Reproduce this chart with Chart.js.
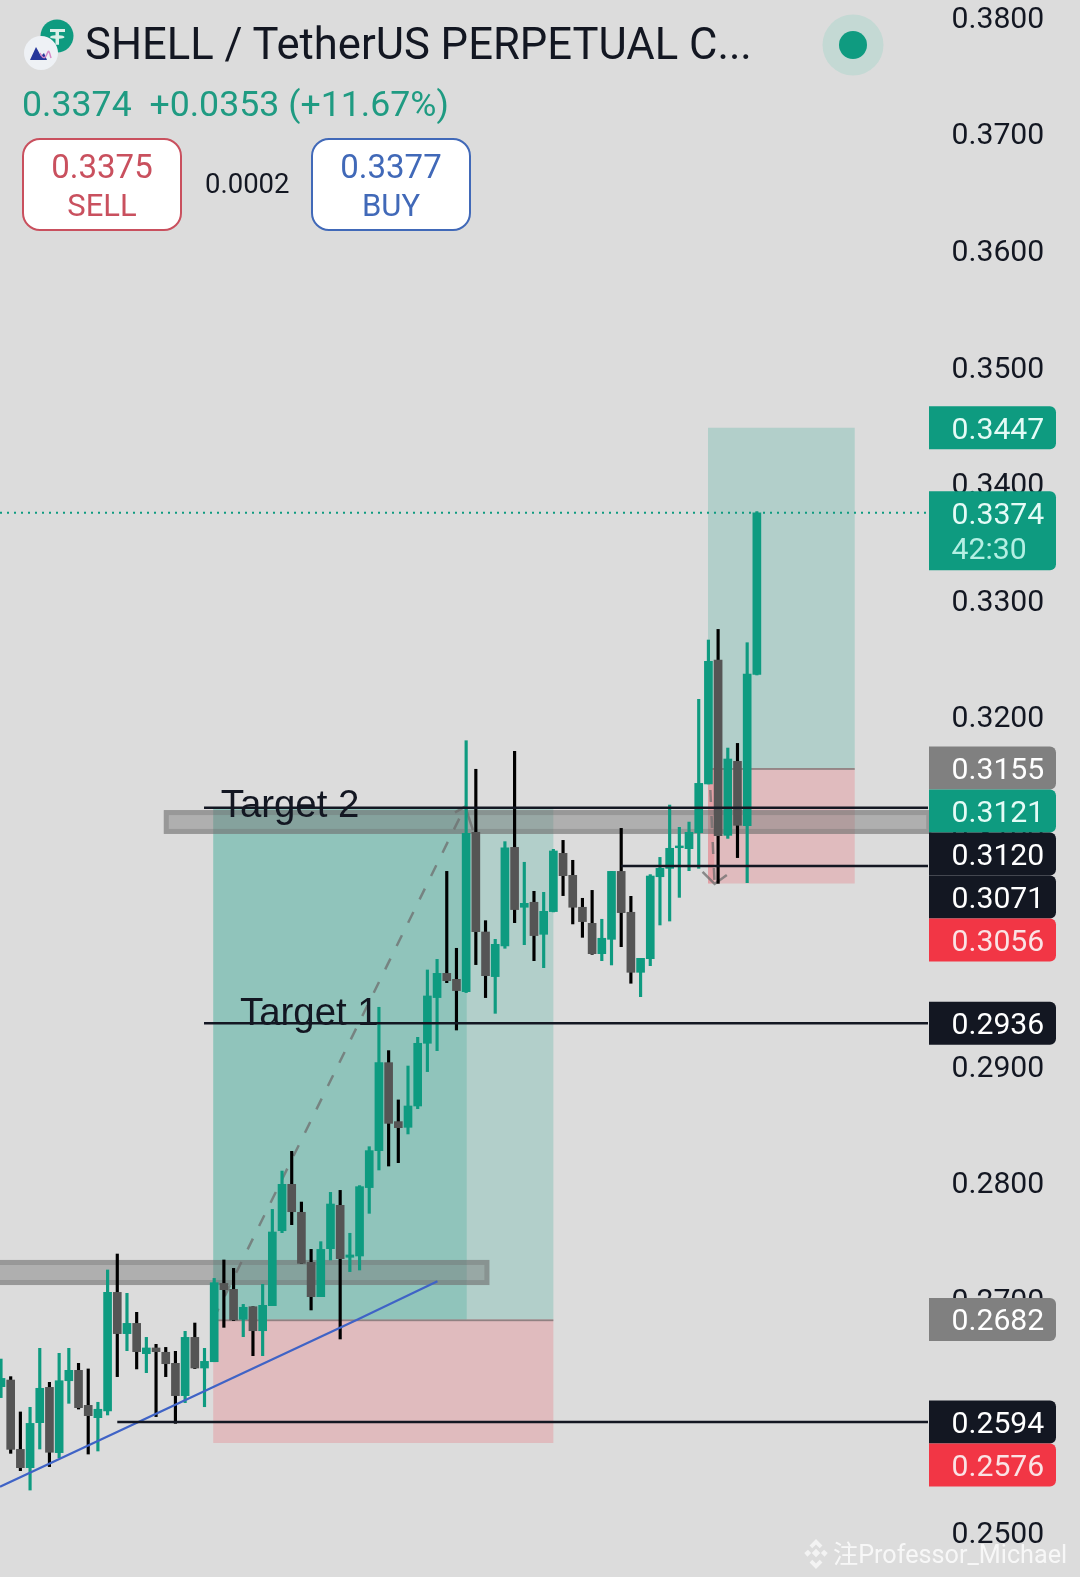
<!DOCTYPE html>
<html>
<head>
<meta charset="utf-8">
<title>SHELL / TetherUS</title>
<script src="https://cdn.jsdelivr.net/npm/chart.js@4"></script>
<style>
  html, body { margin: 0; padding: 0; background: #dcdcdc; }
  #page { position: relative; width: 1080px; height: 1577px; overflow: hidden; font-family: Roboto, sans-serif; }
  #wrap { position: absolute; left: 0; top: 0; width: 1080px; height: 1577px; }
  .abs { position: absolute; white-space: nowrap; }
  .box { position: absolute; top: 138px; width: 156px; height: 89px; border: 2px solid; border-radius: 18px; background: #fff; text-align: center; }
  .box div { position: absolute; left: 0; right: 0; }
</style>
</head>
<body>
<div id="page">
  <div id="wrap"><canvas id="chart"></canvas></div>

  <svg class="abs" style="left:20px;top:16px" width="60" height="60" viewBox="0 0 60 60">
    <circle cx="37" cy="20" r="16.5" fill="#0e9b80"/>
    <path d="M30 13h15v3h-6v3.2c3 .2 5.500 .8 5.500 1.800s-2.500 1.600-5.500 1.800v6h-3.500v-6c-3-.2-5.500-.8-5.500-1.800s2.500-1.600 5.500-1.800v-3.200h-5.500z" fill="#dcefe9"/>
    <circle cx="21" cy="37" r="17" fill="#eef1f5"/>
    <path d="M10 44l6-13 5 9 3-3 3 7z" fill="#26379a"/>
    <path d="M20 37c3 6 5 6 7 1s2-3 4 4" fill="none" stroke="#d58ac8" stroke-width="1.500"/>
  </svg>
  <div class="abs" id="title" style="left:85px;top:19px;font-size:43.600px;line-height:52px;color:#131722">SHELL / TetherUS PERPETUAL C...</div>
  <div class="abs" id="change" style="left:22px;top:84px;font-size:35.700px;line-height:40px;color:#1f9b82;white-space:pre">0.3374  +0.0353 (+11.67%)</div>

  <div class="box" style="left:22px;border-color:#c9505e;color:#c9505e">
    <div style="top:7px;font-size:33px;line-height:40px">0.3375</div>
    <div style="top:48px;font-size:31px;line-height:36px">SELL</div>
  </div>
  <div class="abs" style="left:205px;top:168px;font-size:27.500px;line-height:32px;color:#131722">0.0002</div>
  <div class="box" style="left:311px;border-color:#4169b8;color:#4169b8">
    <div style="top:7px;font-size:33px;line-height:40px">0.3377</div>
    <div style="top:48px;font-size:31px;line-height:36px">BUY</div>
  </div>

  <svg class="abs" style="left:822px;top:14px" width="62" height="62">
    <circle cx="31" cy="31" r="30.500" fill="#c4d9d4"/>
    <circle cx="31" cy="31" r="14" fill="#0f9b80"/>
  </svg>

  <svg class="abs" style="left:800px;top:1538px" width="32" height="32" viewBox="0 0 30 30" fill="#f3f3f3">
    <path d="M15 1l6 6-2.500 2.500-3.500-3.500-3.500 3.500-2.500-2.500z"/>
    <path d="M4 11l3.500-3 3 3-3.500 3.500zM26 11l-3.500-3-3 3 3.500 3.500z" transform="translate(0 3)"/>
    <path d="M15 10l4 4-4 4-4-4z"/>
    <path d="M15 29l-6-6 2.500-2.500 3.500 3.500 3.500-3.500 2.500 2.500z"/>
  </svg>
  <div class="abs" id="mark" style="left:833px;top:1538px;font-family:Roboto,'Noto Sans CJK SC',sans-serif;font-size:25.200px;line-height:34px;color:rgba(255,255,255,.78)">注Professor_Michael</div>
</div>

<script>
// candles
const opens = [.26243,.26300,.25705,.25548,.25934,.26237,.25677,.26294,.26383,.26083,.25977,.26034,.27052,.26698,.26786,.26526,.26575,.26538,.26443,.26166,.26666,.26403,.26457,.27129,.27078,.26821,.26929,.26723,.26938,.27581,.27979,.27739,.27310,.27015,.27427,.27799,.27353,.27364,.27951,.28268,.29023,.28517,.28468,.28651,.29189,.29581,.29789,.29738,.29632,.30999,.30144,.29761,.30024,.30870,.30356,.30399,.30124,.30319,.30819,.30630,.30356,.30218,.29958,.30081,.30664,.30313,.29798,.29915,.30618,.30690,.30867,.30859,.30996,.31414,.32477,.30973,.31608,.31056,.32354];
const closes = [.26314,.25705,.25548,.25928,.26229,.25680,.26294,.26383,.26063,.25994,.26049,.27052,.26698,.26786,.26543,.26575,.26543,.26440,.26166,.26666,.26403,.26460,.27135,.27075,.26815,.26924,.26723,.26941,.27570,.27979,.27744,.27301,.27015,.27421,.27810,.27341,.27373,.27959,.28268,.29023,.28502,.28465,.28651,.29189,.29595,.29789,.29726,.29641,.30990,.30147,.29769,.30038,.30865,.30336,.30390,.30113,.30321,.30839,.30627,.30356,.30233,.29958,.30090,.30664,.30310,.29798,.29918,.30624,.30690,.30862,.30882,.30999,.31419,.32466,.30970,.31628,.31059,.32357,.33741];
const highs = [.26480,.26329,.26026,.26066,.26572,.26280,.26529,.26572,.26443,.26395,.26109,.27244,.27381,.27044,.26881,.26666,.26606,.26580,.26546,.26718,.26789,.26572,.27172,.27330,.27258,.26949,.26929,.27121,.27764,.28093,.28262,.27827,.27421,.27487,.27910,.27927,.27559,.27968,.28302,.29498,.29126,.28703,.28994,.29240,.29818,.29909,.30664,.30004,.31785,.31540,.30241,.30081,.30919,.31694,.30742,.30493,.30484,.30853,.30930,.30759,.30433,.30501,.30253,.30664,.31033,.30450,.29918,.30636,.30784,.31233,.31042,.31087,.32140,.32649,.32740,.31722,.31762,.32626,.33750];
const lows = [.26149,.25671,.25522,.25356,.25708,.25557,.25634,.26100,.26051,.25665,.25691,.26000,.26329,.26552,.26395,.26363,.25986,.26329,.25928,.26106,.26398,.26071,.26457,.26752,.26809,.26672,.26509,.26509,.26938,.27564,.27633,.27301,.26901,.27015,.27330,.26652,.27230,.27244,.27730,.28102,.28136,.28165,.28411,.28628,.28946,.29126,.29709,.29303,.29624,.29864,.29581,.29446,.30004,.30224,.30035,.29898,.29838,.30316,.30456,.30213,.30098,.29952,.29898,.29861,.30018,.29704,.29589,.29855,.30204,.30238,.30441,.30670,.30690,.31414,.30561,.30947,.30782,.30567,.32349];

// axis
const yTicks = [.38,.37,.36,.35,.34,.33,.32,.31,.30,.29,.28,.27,.26,.25];
const yMin = 0.2461, yMax = 0.3814;
const xMin = -0.103, xMax = 95.66;

// right hand price tags, top to bottom
const tagPrices = [.3447,.3374,.3155,.3121,.3120,.3071,.3056,.2936,.2682,.2594,.2576];
const tagKinds = ["green","live","grey","green","black","black","red","black","grey","black","red"];
const countdown = "42:30";
const lastPrice = 0.3374;

// long position tools
const posLeft = [21.9, 72.96];
const posRight = [57.0, 88.1];
const posTarget = [.3121, .3447];
const posEntry = [.2682, .3155];
const posStop = [.2576, .3056];
const progressX = [48.06, 73.6];

// grey zones
const zoneLeft = [16.8, -1];
const zoneRight = [96, 50.4];
const zoneTop = [.3119, .2733];
const zoneBottom = [.30985, .27115];

// horizontal levels
const levelPrices = [.3121, .2936, .3071, .2594];
const levelStart = [20.95, 20.95, 64, 12];

// trend line
const trendX = [-0.103, 36.8, 45.04];
const trendY = [.25384, .2682, .27148];

// dashed paths of the position tools, with their arrow heads
const pathAX = [21.9, 47.9];
const pathAY = [.2682, .3122];
const headAX = [46.85, 47.9, 48.7];
const headAY = [.3117, .3122, .31019];
const pathBX = [73.2, 73.64];
const pathBY = [.31362, .30556];
const headBX = [72.4, 73.64, 74.9];
const headBY = [.30659, .30556, .30633];

// drawing labels
const noteTexts = ["Target 2", "Target 1"];
const noteX = [22.67, 24.66];
const noteY = [.31133, .29346];

const GREEN = "#0e9b80";
const DOWN_BODY = "#555555";
const DOWN_WICK = "#000000";
const INK = "#131722";

const idx = opens.map((v, i) => i);
const isUp = idx.map(i => closes[i] >= opens[i]);

function lineSet(xs, ys, color, width, dash, order) {
  return {
    type: "line",
    data: xs.map((x, i) => ({ x: x, y: ys[i] })),
    borderColor: color,
    borderWidth: width,
    borderDash: dash,
    pointRadius: 0,
    tension: 0,
    order: order
  };
}

function rect(ctx, x, y, l, r, top, bottom, color) {
  ctx.fillStyle = color;
  const x1 = x.getPixelForValue(l), x2 = x.getPixelForValue(r);
  const y1 = y.getPixelForValue(top), y2 = y.getPixelForValue(bottom);
  ctx.fillRect(x1, y1, x2 - x1, y2 - y1);
}

// position tools and grey zones go under the candles
const toolsPlugin = {
  id: "tools",
  beforeDatasetsDraw(chart) {
    const ctx = chart.ctx, x = chart.scales.x, y = chart.scales.y;
    ctx.save();
    posLeft.forEach((l, i) => {
      rect(ctx, x, y, l, posRight[i], posTarget[i], posEntry[i], "rgba(8,153,129,.2)");
      rect(ctx, x, y, l, posRight[i], posEntry[i], posStop[i], "rgba(242,54,69,.2)");
      rect(ctx, x, y, l, posRight[i], posEntry[i], posEntry[i] - 0.00015, "rgba(90,90,90,.6)");
    });
    rect(ctx, x, y, posLeft[0], progressX[0], posTarget[0], posEntry[0], "rgba(8,153,129,.2)");
    rect(ctx, x, y, posLeft[1], progressX[1], posEntry[1], posStop[1], "rgba(242,54,69,.2)");
    zoneLeft.forEach((l, i) => {
      const x1 = x.getPixelForValue(l), x2 = x.getPixelForValue(zoneRight[i]);
      const y1 = y.getPixelForValue(zoneTop[i]), y2 = y.getPixelForValue(zoneBottom[i]);
      ctx.fillStyle = "rgba(120,120,120,.45)";
      ctx.fillRect(x1, y1, x2 - x1, y2 - y1);
      ctx.strokeStyle = "rgba(110,110,110,.35)";
      ctx.lineWidth = 5;
      ctx.strokeRect(x1 + 2.5, y1 + 2.5, x2 - x1 - 5, y2 - y1 - 5);
    });
    ctx.restore();
  }
};

// notes and price tags go on top of everything
const tagsPlugin = {
  id: "tags",
  afterDraw(chart) {
    const ctx = chart.ctx, x = chart.scales.x, y = chart.scales.y;
    const colors = { green: GREEN, live: GREEN, grey: "#808080", black: INK, red: "#f23645" };
    const inks = { green: "#e4fbf6", live: "#e4fbf6", grey: "#ffffff", black: "#ffffff", red: "#fae3e5" };
    ctx.save();
    ctx.textBaseline = "alphabetic";
    ctx.fillStyle = INK;
    ctx.font = "38.4px 'Liberation Sans'";
    ctx.textAlign = "left";
    noteTexts.forEach((t, i) => ctx.fillText(t, x.getPixelForValue(noteX[i]), y.getPixelForValue(noteY[i])));

    ctx.font = "30.2px Roboto";
    let prevBottom = 0;
    tagPrices.forEach((p, i) => {
      const kind = tagKinds[i];
      const top = Math.max(prevBottom, y.getPixelForValue(p) - 21.5);
      const h = kind === "live" ? 79 : 43;
      ctx.fillStyle = colors[kind];
      ctx.beginPath();
      ctx.roundRect(929, top, 127, h, [0, 6, 6, 0]);
      ctx.fill();
      ctx.fillStyle = inks[kind];
      ctx.textBaseline = "middle";
      ctx.fillText(p.toFixed(4), 951.5, top + 25);
      if (kind === "live") {
        ctx.fillStyle = "#b4efe3";
        ctx.fillText(countdown, 951.5, top + 60);
      }
      prevBottom = top + h;
    });
    ctx.restore();
  }
};

Chart.defaults.font.family = "Roboto";

new Chart(document.getElementById("chart"), {
  type: "bar",
  data: {
    datasets: [
      lineSet(pathAX, pathAY, "rgba(110,110,110,.75)", 2.5, [12, 14], 5),
      lineSet(headAX, headAY, "rgba(110,110,110,.75)", 2.5, [], 5),
      lineSet(pathBX, pathBY, "rgba(110,110,110,.75)", 2.5, [12, 14], 5),
      lineSet(headBX, headBY, "rgba(110,110,110,.75)", 2.5, [], 5),
      {
        data: idx.map(i => ({ x: i, y: [lows[i], highs[i]] })),
        backgroundColor: idx.map(i => isUp[i] ? GREEN : DOWN_WICK),
        barThickness: 2.5,
        grouped: false,
        order: 4
      },
      {
        data: idx.map(i => ({ x: i, y: [opens[i], closes[i]] })),
        backgroundColor: idx.map(i => isUp[i] ? GREEN : DOWN_BODY),
        barThickness: 8,
        grouped: false,
        order: 3
      },
      ...levelPrices.map((p, i) => lineSet([levelStart[i], xMax], [p, p], INK, 2.5, [], 1)),
      lineSet(trendX, trendY, "#3f63c6", 2.2, [], 2),
      lineSet([xMin, xMax], [lastPrice, lastPrice], GREEN, 2, [2, 5], 2)
    ]
  },
  options: {
    responsive: true,
    maintainAspectRatio: false,
    animation: false,
    devicePixelRatio: 1,
    layout: { padding: 0 },
    plugins: { legend: { display: false }, tooltip: { enabled: false } },
    scales: {
      x: {
        type: "linear",
        offset: false,
        min: xMin,
        max: xMax,
        display: false
      },
      y: {
        position: "right",
        min: yMin,
        max: yMax,
        grid: { display: false, drawTicks: false },
        border: { display: false },
        ticks: {
          color: INK,
          padding: 23.5,
          labelOffset: 4,
          font: { family: "Roboto", size: 30.2 },
          autoSkip: false,
          callback: v => v.toFixed(4)
        },
        afterFit(scale) {
          scale.width = 152;
          scale.paddingTop = 0;
          scale.paddingBottom = 0;
        },
        afterBuildTicks(scale) { scale.ticks = yTicks.map(v => ({ value: v })); }
      }
    }
  },
  plugins: [toolsPlugin, tagsPlugin]
});
</script>
</body>
</html>
